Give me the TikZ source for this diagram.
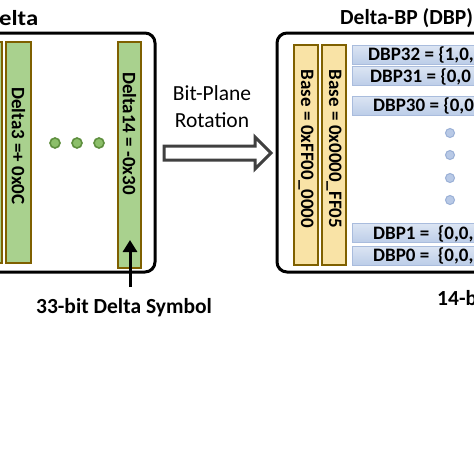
\documentclass[tikz,border=0pt]{standalone}
\usepackage{fontspec}
\setmainfont{Carlito}
\usetikzlibrary{arrows.meta}
\definecolor{barbrown}{HTML}{7F6000}
\definecolor{bargreen}{HTML}{A9D18E}
\definecolor{basetan}{HTML}{F9E3A6}
\definecolor{rowtop}{HTML}{DCE5F3}
\definecolor{rowbot}{HTML}{BCCDE8}
\definecolor{rowedge}{HTML}{A9BCDD}
\definecolor{dotgreen}{HTML}{8CBF6A}
\definecolor{dotgreenedge}{HTML}{5E8F3E}
\definecolor{dotblue}{HTML}{B8C9E6}
\definecolor{dotblueedge}{HTML}{9AB0D6}
\definecolor{arrowgray}{HTML}{404040}
\begin{document}
\begin{tikzpicture}[x=1pt,y=-1pt,
  panel/.style={draw=black, line width=3pt, rounded corners=10pt},
  gbar/.style={draw=barbrown, fill=bargreen, line width=2pt, inner sep=0pt},
  tbar/.style={draw=barbrown, fill=basetan, line width=2pt, inner sep=0pt},
  vtext/.style={rotate=-90, inner sep=0pt, font=\fontsize{19}{19}\selectfont\bfseries},
  rowbox/.style={draw=rowedge, line width=0.8pt, top color=rowtop, bottom color=rowbot, inner sep=0pt, anchor=west, minimum width=150pt, minimum height=19pt},
  rowtext/.style={anchor=base west, inner sep=0pt, font=\fontsize{19}{19}\selectfont\bfseries},
  gdot/.style={circle, draw=dotgreenedge, fill=dotgreen, line width=1.6pt, minimum size=10pt, inner sep=0pt},
  bdot/.style={circle, draw=dotblueedge, fill=dotblue, line width=1pt, minimum size=9pt, inner sep=0pt},
  title/.style={inner sep=0pt, font=\fontsize{21.5}{21.5}\selectfont\bfseries},
  label/.style={inner sep=0pt, font=\fontsize{21.5}{21.5}\selectfont}
]
\useasboundingbox (0,0) rectangle (474,474);
\clip (0,0) rectangle (474,474);
\fill[white] (0,0) rectangle (474,474);

% titles
\node[title, anchor=base east, xscale=1.15] (tdelta) at (38.5,25) {Delta};
\node[title, anchor=base west] (tdbp) at (340,24) {Delta-BP (DBP)};

% left panel
\draw[panel] (-30,33) rectangle (155,272);
\node[gbar, minimum width=25pt, minimum height=221pt] (d2) at (-11,152.5) {};
\node[gbar, minimum width=25pt, minimum height=221pt] (d3) at (18.5,152.5) {};
\node[vtext] (d3t) at (18.5,146) {Delta3 =+ 0x0C};
\node[gbar, minimum width=23pt, minimum height=226pt] (d14) at (129.5,155) {};
\node[vtext] (d14t) at (129.5,133.5) {Delta14 = -0x30};
\node[gdot] (g1) at (55,143) {};
\node[gdot] (g2) at (77,143) {};
\node[gdot] (g3) at (99,143) {};

% pointer arrow
\coordinate (pbot) at (130,287);
\coordinate (ptop) at (130,240);
\draw[line width=3pt, -{Triangle[length=12pt,width=14pt]}] (pbot) -- (ptop);
\node[title, anchor=base] (sym) at (124,313) {33-bit Delta Symbol};

% rotation label and block arrow
\node[label, anchor=base] (bp) at (212,100) {Bit-Plane};
\node[label, anchor=base] (rot) at (212,127) {Rotation};
\draw[draw=arrowgray, fill=white, line width=3pt, line join=miter]
  (164,146) -- (255,146) -- (255,137) -- (271,153) -- (255,169) -- (255,160) -- (164,160) -- cycle;

% right panel
\draw[panel] (277,33) rectangle (520,272);
\node[tbar, minimum width=24pt, minimum height=220pt] (b1) at (306,155) {};
\node[vtext] (b1t) at (306,149) {Base = 0xFF00\_0000};
\node[tbar, minimum width=24pt, minimum height=220pt] (b2) at (334,155) {};
\node[vtext] (b2t) at (334,149) {Base = 0x0000\_FF05};

\node[rowbox] (r32) at (352,54.5) {};
\node[rowtext] (r32t) at (368,60.5) {DBP32 = \{1,0,};
\node[rowbox] (r31) at (352,76) {};
\node[rowtext] (r31t) at (370,82) {DBP31 = \{0,0};
\node[rowbox] (r30) at (352,105.5) {};
\node[rowtext] (r30t) at (373,111.5) {DBP30 = \{0,0};
\node[bdot] (bd1) at (450,133) {};
\node[bdot] (bd2) at (450,155) {};
\node[bdot] (bd3) at (450,178) {};
\node[bdot] (bd4) at (450,200) {};
\node[rowbox] (r1) at (352,233) {};
\node[rowtext] (r1t) at (373,239) {DBP1 = \ \{0,0,};
\node[rowbox] (r0) at (352,255.5) {};
\node[rowtext] (r0t) at (373,261.5) {DBP0 = \ \{0,0,};

\node[title, anchor=base west] (fourteen) at (437,305) {14-b};
\end{tikzpicture}
\end{document}
